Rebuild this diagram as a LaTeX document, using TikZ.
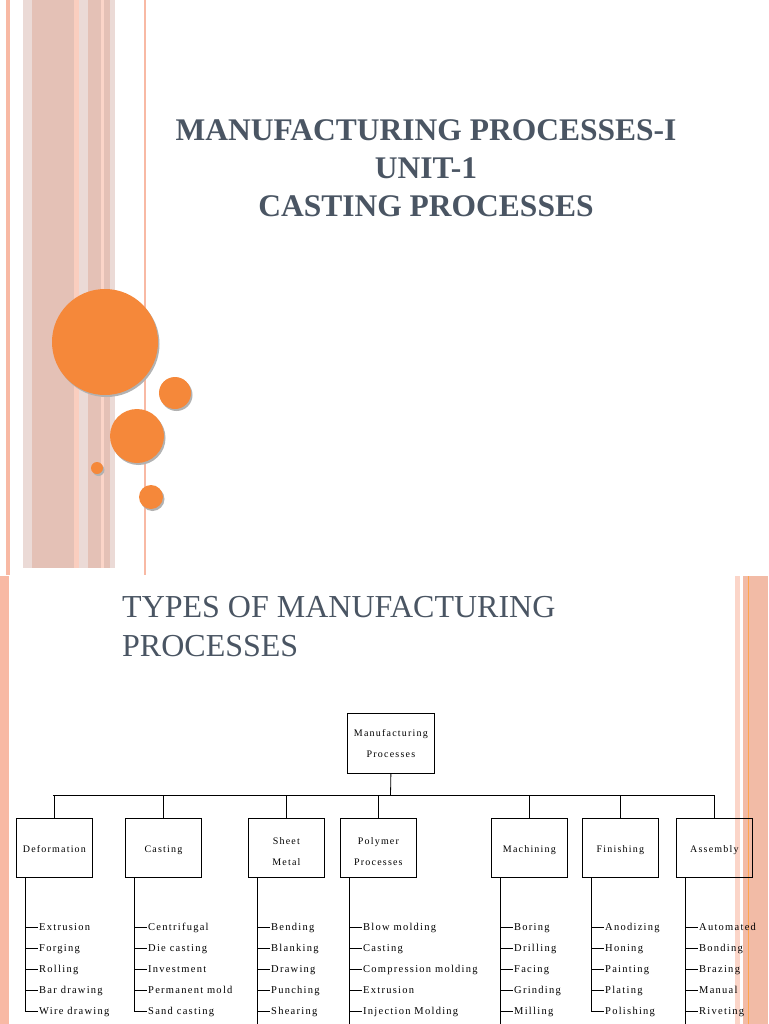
\documentclass[tikz,border=0pt]{standalone}
\usepackage{fontspec}
\setmainfont{Liberation Serif}
\newfontfamily\spaced[LetterSpace=12]{Liberation Serif}
\begin{document}
\begin{tikzpicture}[x=1pt,y=-1pt,
  title/.style={font=\fontsize{31.5}{38}\selectfont\bfseries, text=tcol, align=center},
  box/.style={draw=black, thick, minimum width=76pt, minimum height=59pt, text width=68pt, anchor=north west, align=center, font=\spaced\fontsize{10}{21}\selectfont},
  item/.style={anchor=west, font=\spaced\fontsize{10.5}{12}\selectfont, inner sep=1pt, text height=8pt, text depth=2pt},
  line/.style={black, thick}]
\definecolor{tcol}{HTML}{4A5563}
\definecolor{corange}{HTML}{F5883A}
\definecolor{spale}{HTML}{EBDAD6}
\definecolor{sdark}{HTML}{E4C1B6}
\definecolor{salmon}{HTML}{F8B9A4}
\definecolor{rstripe}{HTML}{F2BBA6}
\useasboundingbox (0,0) rectangle (768,1024);
\fill[white] (0,0) rectangle (768,1024);
% ---- top slide stripes
\fill[salmon] (6,0) rectangle (10,575);
\fill[spale] (23,0) rectangle (115,568);
\fill[sdark] (32,0) rectangle (74,568);
\fill[salmon!70] (74,0) rectangle (79,568);
\fill[sdark] (88,0) rectangle (110,568);
\fill[salmon!60] (101,0) rectangle (104,568);
\fill[salmon] (144,0) rectangle (146,575);
% circles
\foreach \x/\y/\r in {105/342/53,175/393/16,137/436/27,97/468/6,151/497/12}{
  \fill[gray!60] (\x+1.5,\y+2) circle (\r);
  \fill[corange] (\x,\y) circle (\r);}
\node[title] (t1) at (426,168) {MANUFACTURING PROCESSES-I\\UNIT-1\\CASTING PROCESSES};
% ---- bottom slide
\fill[salmon] (0,576) rectangle (9,1024);
\fill[salmon!60] (735,576) rectangle (740,1024);
\fill[rstripe] (743,576) rectangle (768,1024);
\fill[orange!70] (748,576) rectangle (749,1024);
\node[anchor=north west, text=tcol, font=\fontsize{32}{39}\selectfont, align=left, inner sep=0] (t2) at (122,596) {TYPES OF MANUFACTURING\\PROCESSES};
% tree
\node[box, minimum width=87pt, text width=80pt, minimum height=60pt] (root) at (347,713) {Manufacturing\\Processes};
\coordinate (bus) at (390.5,795);
\draw[line] (root.south) -- (bus);
\draw[line] (53,795) -- (714,795);
\foreach \n/\x/\t in {dfm/16/Deformation, cst/125/Casting, shm/248/Sheet\\Metal, pol/340/Polymer\\Processes, mac/491/Machining, fin/582/Finishing, asm/676/Assembly}{
  \node[box] (\n) at (\x,818) {\strut\t};
  \draw[line] (\n.north) -- (\n.north |- bus);
}
\newcommand{\branch}[8]{% name, x, end, 5 items
  \coordinate (#1t) at ([xshift=9pt]#1.south west);
  \foreach \i/\s in {0/#4,1/#5,2/#6,3/#7,4/#8}{
    \node[item] (#1i\i) at ([xshift=13pt]#1t |- 0,927+21*\i) {\s};
    \draw[line] (#1t |- #1i\i.west) -- (#1i\i.west);}
  \draw[line] (#1t) -- (#1t |- 0,#3);
}
\branch{dfm}{}{1011}{Extrusion}{Forging}{Rolling}{Bar drawing}{Wire drawing}
\branch{cst}{}{1011}{Centrifugal}{Die casting}{Investment}{Permanent mold}{Sand casting}
\branch{shm}{}{1024}{Bending}{Blanking}{Drawing}{Punching}{Shearing}
\branch{pol}{}{1024}{Blow molding}{Casting}{Compression molding}{Extrusion}{Injection Molding}
\branch{mac}{}{1024}{Boring}{Drilling}{Facing}{Grinding}{Milling}
\branch{fin}{}{1011}{Anodizing}{Honing}{Painting}{Plating}{Polishing}
\branch{asm}{}{1024}{Automated}{Bonding}{Brazing}{Manual}{Riveting}
\end{tikzpicture}
\end{document}
